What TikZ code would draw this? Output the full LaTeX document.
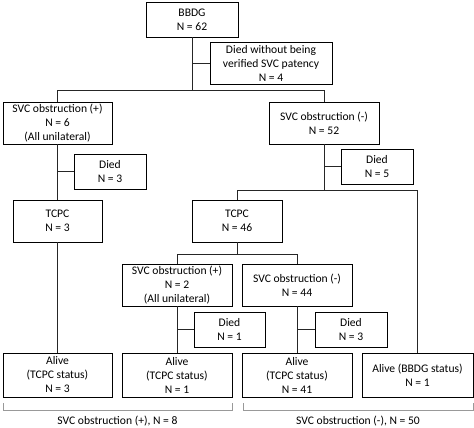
\documentclass[tikz,border=0pt]{standalone}
\usepackage{fontspec}
\setmainfont{Carlito}
\usetikzlibrary{calc}
\usetikzlibrary{positioning}

\begin{document}
\begin{tikzpicture}[x=1pt, y=-1pt,
    box/.style={rectangle, draw=black, line width=0.9pt, align=center, inner sep=1pt,
        font=\fontsize{11.6}{14}\selectfont, minimum height=42pt},
    small/.style={box, minimum height=35pt},
    link/.style={draw=black!85, line width=0.9pt},
    brace/.style={draw=black!40, line width=0.7pt}]
    \useasboundingbox (0, 0) rectangle (474, 428);
    % top
    \node[small, minimum width=92pt] (bbdg) at (192, 19.5) {BBDG\\N = 62};
    \node[box, minimum width=122pt] (died0) at (271, 63) {Died without being\\verified SVC patency\\N = 4};
    \node[box, minimum width=109pt] (svcp) at (57.5, 123) {SVC obstruction (+)\\N = 6\\(All unilateral)};
    \node[box, minimum width=110pt] (svcn) at (324, 123) {SVC obstruction (-)\\N = 52};
    % second level
    \node[small, minimum width=72pt] (diedL) at (110, 171.5) {Died\\N = 3};
    \node[small, minimum width=72pt] (diedR) at (377, 166.5) {Died\\N = 5};
    \node[box, minimum width=89pt] (tcpcL) at (57.5, 221) {TCPC\\N = 3};
    \node[box, minimum width=90pt] (tcpcR) at (237, 221) {TCPC\\N = 46};
    \node[box, minimum width=110pt] (svcp2) at (177, 285) {SVC obstruction (+)\\N = 2\\(All unilateral)};
    \node[box, minimum width=110pt] (svcn2) at (297, 285) {SVC obstruction (-)\\N = 44};
    \node[small, minimum width=71pt] (died1) at (229.5, 329.5) {Died\\N = 1};
    \node[small, minimum width=72pt] (died3) at (351, 329.5) {Died\\N = 3};
    % outcomes
    \node[box, minimum width=109pt, minimum height=44pt] (alive1) at (57.5, 375) {Alive\\(TCPC status)\\N = 3};
    \node[box, minimum width=110pt, minimum height=44pt] (alive2) at (177, 375) {Alive\\(TCPC status)\\N = 1};
    \node[box, minimum width=110pt, minimum height=44pt] (alive3) at (297, 375) {Alive\\(TCPC status)\\N = 41};
    \node[box, minimum width=111pt, minimum height=44pt] (alive4) at (417.5, 375) {Alive (BBDG status)\\N = 1};
    % splits
    \coordinate (split0) at (192, 90);
    \coordinate (split1) at (324, 190);
    \coordinate (split2) at (237, 254);
    \path[link] (bbdg.south) -- (split0);
    \path[link] (bbdg.south |- died0.west) -- (died0.west);
    \path[link] (split0) -| (svcp.north);
    \path[link] (split0) -| (svcn.north);
    \path[link] (svcp.south) -- (tcpcL.north);
    \path[link] (svcp.south |- diedL.west) -- (diedL.west);
    \path[link] (tcpcL.south) -- (alive1.north);
    \path[link] (svcn.south) -- (split1);
    \path[link] (svcn.south |- diedR.west) -- (diedR.west);
    \path[link] (split1) -| (tcpcR.north);
    \path[link] (split1) -| (alive4.north);
    \path[link] (tcpcR.south) -- (split2);
    \path[link] (split2) -| (svcp2.north);
    \path[link] (split2) -| (svcn2.north);
    \path[link] (svcp2.south) -- (alive2.north);
    \path[link] (svcp2.south |- died1.west) -- (died1.west);
    \path[link] (svcn2.south) -- (alive3.north);
    \path[link] (svcn2.south |- died3.west) -- (died3.west);
    % groups
    \coordinate (g1a) at (3, 403);
    \coordinate (g1b) at (232, 403);
    \coordinate (g2a) at (243, 403);
    \coordinate (g2b) at (473, 403);
    \path[brace] (g1a) -- ++(0, 7) -| (g1b);
    \path[brace] (g2a) -- ++(0, 7) -| (g2b);
    \node[font=\fontsize{11.6}{14}\selectfont] (sum1) at (117.5, 421) {SVC obstruction (+), N = 8};
    \node[font=\fontsize{11.6}{14}\selectfont] (sum2) at (358, 421) {SVC obstruction (-), N = 50};
\end{tikzpicture}
\end{document}
